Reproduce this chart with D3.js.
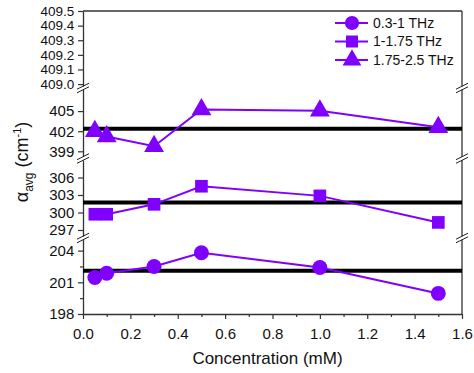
<!DOCTYPE html>
<html>
<head>
<meta charset="utf-8">
<script src="https://cdn.jsdelivr.net/npm/d3@7"></script>
<style>
  body { margin: 0; background: #fff; }
  text { font-family: "Liberation Sans", Arial, sans-serif; fill: #111; }
</style>
</head>
<body>
<div id="chart"></div>
<script>
// concentrations (mM)
const conc = [0.05, 0.1, 0.3, 0.5, 1.0, 1.5];
// alpha_avg per band (cm^-1)
const band1 = [201.45, 201.85, 202.5, 203.8, 202.4, 199.95];   // 0.3-1 THz
const band2 = [299.7, 299.7, 301.4, 304.5, 302.85, 298.3];     // 1-1.75 THz
const band3 = [402.0, 401.2, 399.75, 405.25, 405.05, 402.6];   // 1.75-2.5 THz
// mean reference lines
const refVals = [202.1, 301.7, 402.35];
const seriesNames = ["0.3-1 THz", "1-1.75 THz", "1.75-2.5 THz"];

const xTicks = [0, 0.2, 0.4, 0.6, 0.8, 1.0, 1.2, 1.4, 1.6];
const yTicks1 = [409.0, 409.1, 409.2, 409.3, 409.4, 409.5];
const yTicks2 = [399, 402, 405];
const yTicks3 = [297, 300, 303, 306];
const yTicks4 = [198, 201, 204];

const W = 474, H = 373;
const pL = 83, pR = 462, pT = 11, pB = 314;
const purple = "#7f00ff";

const svg = d3.select("#chart").append("svg")
  .attr("width", W).attr("height", H);

const x = d3.scaleLinear().domain([0, 1.6]).range([pL, pR]);

// broken y axis: one scale per segment
const seg1 = d3.scaleLinear().domain([408.98, 409.5]).range([87, pT]);
const seg2 = d3.scaleLinear().domain([398, 408.3]).range([158, 89]);
const seg3 = d3.scaleLinear().domain([295.8, 309]).range([237, 160]);
const seg4 = d3.scaleLinear().domain([198, 205.1]).range([pB, 239]);
const breaks = [88, 158.5, 238];

// frame: top and right lines
svg.append("line").attr("x1", pL).attr("x2", pR).attr("y1", pT).attr("y2", pT)
  .attr("stroke", "#333").attr("stroke-width", 1.3);
svg.append("line").attr("x1", pR).attr("x2", pR).attr("y1", pT).attr("y2", pB)
  .attr("stroke", "#333").attr("stroke-width", 1.3);

// x axis
const xAxis = svg.append("g").attr("transform", `translate(0,${pB})`)
  .call(d3.axisBottom(x).tickValues(xTicks).tickFormat(d3.format(".1f")).tickSize(5).tickSizeOuter(0));
svg.append("g").attr("transform", `translate(0,${pB})`)
  .call(d3.axisBottom(x).tickValues(d3.range(0.1, 1.6, 0.2)).tickFormat("").tickSize(3).tickSizeOuter(0))
  .select(".domain").remove();
xAxis.selectAll("text").attr("font-size", 15).attr("dy", "1.1em");

// y axis segments
function ySeg(scale, ticks, fmt, fs, minor) {
  const g = svg.append("g").attr("transform", `translate(${pL},0)`)
    .call(d3.axisLeft(scale).tickValues(ticks).tickFormat(d3.format(fmt)).tickSize(5).tickSizeOuter(0));
  g.selectAll("text").attr("font-size", fs).attr("dx", "-0.05em");
  if (minor) {
    svg.append("g").attr("transform", `translate(${pL},0)`)
      .call(d3.axisLeft(scale).tickValues(minor).tickFormat("").tickSize(3).tickSizeOuter(0))
      .select(".domain").remove();
  }
  return g;
}
ySeg(seg1, yTicks1, ".1f", 13.5);
ySeg(seg2, yTicks2, "d", 15);
ySeg(seg3, yTicks3, "d", 15);
ySeg(seg4, yTicks4, "d", 15, [199.5, 202.5]);

svg.selectAll(".domain").attr("stroke", "#333").attr("stroke-width", 1.3);
svg.selectAll(".tick line").attr("stroke", "#333").attr("stroke-width", 1.2);

// break marks on both vertical axes
[pL, pR].forEach(ax => {
  breaks.forEach(by => {
    svg.append("rect").attr("x", ax - 6).attr("y", by - 1.5).attr("width", 12).attr("height", 3).attr("fill", "#fff");
    [-1.8, 1.8].forEach(o => {
      svg.append("line")
        .attr("x1", ax - 6).attr("y1", by + o + 3)
        .attr("x2", ax + 6).attr("y2", by + o - 3)
        .attr("stroke", "#222").attr("stroke-width", 1);
    });
  });
});

// reference lines
[[seg4, refVals[0]], [seg3, refVals[1]], [seg2, refVals[2]]].forEach(([s, v]) => {
  svg.append("line").attr("x1", pL).attr("x2", pR)
    .attr("y1", s(v)).attr("y2", s(v))
    .attr("stroke", "#000").attr("stroke-width", 4);
});

// series
const series = [
  { name: seriesNames[0], vals: band1, scale: seg4, sym: d3.symbolCircle, size: 175 },
  { name: seriesNames[1], vals: band2, scale: seg3, sym: d3.symbolSquare, size: 160 },
  { name: seriesNames[2], vals: band3, scale: seg2, sym: d3.symbolTriangle, size: 170 }
];

series.forEach(s => {
  const pts = conc.map((c, i) => [x(c), s.scale(s.vals[i])]);
  svg.append("path").attr("d", d3.line()(pts))
    .attr("fill", "none").attr("stroke", purple).attr("stroke-width", 2);
  svg.selectAll(null).data(pts).join("path")
    .attr("transform", d => `translate(${d[0]},${d[1]})`)
    .attr("d", d3.symbol(s.sym, s.size))
    .attr("fill", purple);
});

// legend
const leg = svg.append("g");
series.forEach((s, i) => {
  const ly = 23 + i * 18.5;
  leg.append("line").attr("x1", 335).attr("x2", 368).attr("y1", ly).attr("y2", ly)
    .attr("stroke", purple).attr("stroke-width", 2);
  leg.append("path").attr("transform", `translate(352,${ly})`)
    .attr("d", d3.symbol(s.sym, s.size * 0.9)).attr("fill", purple);
  leg.append("text").attr("x", 373).attr("y", ly).attr("dy", "0.35em")
    .attr("font-size", 14).text(s.name);
});

// axis titles
svg.append("text").attr("x", (pL + pR) / 2 - 5).attr("y", 364)
  .attr("text-anchor", "middle").attr("font-size", 17).text("Concentration (mM)");

const yt = svg.append("text")
  .attr("transform", "translate(28,162) rotate(-90)")
  .attr("text-anchor", "middle").attr("font-size", 18);
yt.append("tspan").text("α");
yt.append("tspan").attr("font-size", 12).attr("dy", 5).text("avg");
yt.append("tspan").attr("dy", -5).text(" (cm");
yt.append("tspan").attr("font-size", 11).attr("dy", -7).text("-1");
yt.append("tspan").attr("dy", 7).text(")");
</script>
</body>
</html>
